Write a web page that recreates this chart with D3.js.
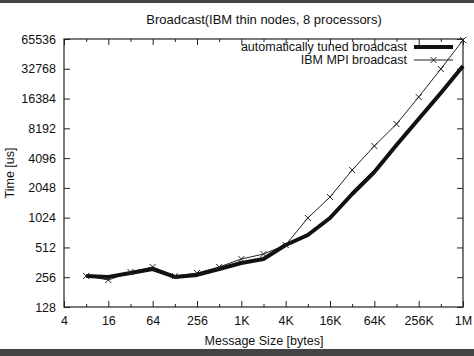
<!DOCTYPE html>
<html><head><meta charset="utf-8">
<script src="https://cdn.jsdelivr.net/npm/d3@7"></script>
<style>
html,body{margin:0;padding:0;background:#fff;}
svg{display:block;font-family:"Liberation Sans",Arial,Helvetica,sans-serif;}
</style></head>
<body>
<svg id="chart" width="474" height="356"></svg>
<script>
const sizes = [8,16,32,64,128,256,512,1024,2048,4096,8192,16384,32768,65536,131072,262144,524288,1048576];
const tunedTimes = [263,258,282,310,258,270,310,356,391,542,684,1016,1777,2962,5554,10169,18645,34930];
const mpiTimes   = [264,240,289,325,263,282,325,391,439,542,1016,1656,3104,5426,9054,16976,32590,64000];
const xTickValues = [4,16,64,256,1024,4096,16384,65536,262144,1048576];
const xTickLabels = ["4","16","64","256","1K","4K","16K","64K","256K","1M"];
const xMinorValues = [8,32,128,512,2048,8192,32768,131072,524288];
const yTickValues = [128,256,512,1024,2048,4096,8192,16384,32768,65536];
const yTickLabels = ["128","256","512","1024","2048","4096","8192","16384","32768","65536"];
const seriesNames = ["automatically tuned broadcast","IBM MPI broadcast"];
const titleText = "Broadcast(IBM thin nodes, 8 processors)";
const xTitle = "Message Size [bytes]";
const yTitle = "Time [us]";

const W=474,H=356;
const L=64,R=463,T=39,B=307;
const svg=d3.select("#chart");
const ink="#222";

// frame bands
svg.append("rect").attr("x",0).attr("y",0).attr("width",W).attr("height",3).attr("fill","#444");
svg.append("rect").attr("x",0).attr("y",349).attr("width",W).attr("height",7).attr("fill","#444");

const x=d3.scaleLog().base(2).domain([4,1048576]).range([L,R]);
const y=d3.scaleLog().base(2).domain([128,65536]).range([B,T]);

const fs=12.5;
// bottom axis
const gB=svg.append("g").attr("transform",`translate(0,${B})`)
 .call(d3.axisBottom(x).tickValues(xTickValues).tickSize(-6).tickPadding(9)
   .tickFormat((d,i)=>xTickLabels[i]));
gB.select(".domain").remove();
svg.append("g").attr("transform",`translate(0,${B})`)
 .call(d3.axisBottom(x).tickValues(xMinorValues).tickSize(-3).tickFormat(""))
 .select(".domain").remove();
// top mirror
svg.append("g").attr("transform",`translate(0,${T})`)
 .call(d3.axisTop(x).tickValues(xTickValues).tickSize(-6).tickFormat(""))
 .select(".domain").remove();
svg.append("g").attr("transform",`translate(0,${T})`)
 .call(d3.axisTop(x).tickValues(xMinorValues).tickSize(-3).tickFormat(""))
 .select(".domain").remove();
// left axis
const gL=svg.append("g").attr("transform",`translate(${L},0)`)
 .call(d3.axisLeft(y).tickValues(yTickValues).tickSize(-6).tickPadding(8)
   .tickFormat((d,i)=>yTickLabels[i]));
gL.select(".domain").remove();
// right mirror
svg.append("g").attr("transform",`translate(${R},0)`)
 .call(d3.axisRight(y).tickValues(yTickValues).tickSize(-6).tickFormat(""))
 .select(".domain").remove();

svg.selectAll(".tick line").attr("stroke",ink).attr("stroke-width",1);
svg.selectAll(".tick text").attr("fill","#111").style("font-size",fs+"px")
  .style("font-family","'Liberation Sans',Arial,Helvetica,sans-serif");

// frame
svg.append("rect").attr("x",L).attr("y",T).attr("width",R-L).attr("height",B-T)
 .attr("fill","none").attr("stroke",ink).attr("stroke-width",1.2);

const line=d3.line().x((d,i)=>x(sizes[i])).y(d=>y(d));

svg.append("path").datum(mpiTimes).attr("d",line).attr("fill","none")
 .attr("stroke","#222").attr("stroke-width",1);
svg.append("path").datum(tunedTimes).attr("d",line).attr("fill","none")
 .attr("stroke","#111").attr("stroke-width",4).attr("stroke-linejoin","round");

function cross(g,cx,cy,s){
  g.append("path").attr("d",`M${cx-s},${cy-s}L${cx+s},${cy+s}M${cx-s},${cy+s}L${cx+s},${cy-s}`)
   .attr("stroke","#222").attr("stroke-width",1).attr("fill","none");
}
const mg=svg.append("g");
mpiTimes.forEach((v,i)=>cross(mg,x(sizes[i]),y(v),3));

// legend
const lg=svg.append("g");
lg.append("text").attr("x",407).attr("y",51).attr("text-anchor","end")
  .style("font-size",fs+"px").attr("fill","#111").text(seriesNames[0]);
lg.append("line").attr("x1",414).attr("x2",453).attr("y1",47).attr("y2",47)
  .attr("stroke","#111").attr("stroke-width",4);
lg.append("text").attr("x",407).attr("y",64).attr("text-anchor","end")
  .style("font-size",fs+"px").attr("fill","#111").text(seriesNames[1]);
lg.append("line").attr("x1",414).attr("x2",453).attr("y1",60).attr("y2",60)
  .attr("stroke","#222").attr("stroke-width",1);
cross(lg,433.5,60,3);

// titles
svg.append("text").attr("x",264).attr("y",24).attr("text-anchor","middle")
 .style("font-size","13px").attr("fill","#111").text(titleText);
svg.append("text").attr("x",264).attr("y",345).attr("text-anchor","middle")
 .style("font-size",fs+"px").attr("fill","#111").text(xTitle);
svg.append("text").attr("transform","translate(14,173) rotate(-90)").attr("text-anchor","middle")
 .style("font-size",fs+"px").attr("fill","#111").text(yTitle);
</script>
</body></html>
